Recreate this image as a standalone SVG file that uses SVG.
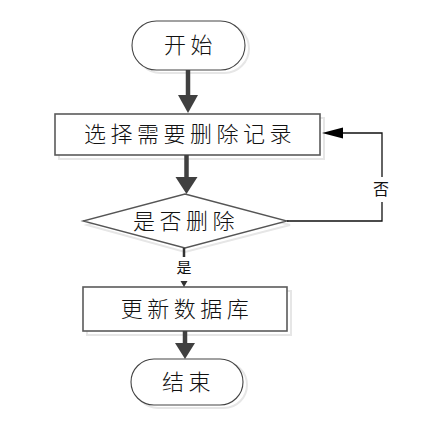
<svg xmlns="http://www.w3.org/2000/svg" width="434" height="425" viewBox="0 0 434 425">
<style>
.sh{fill:none;stroke:#e6e6e6;stroke-width:2}
.box{fill:#fff;stroke:#5a5a5a;stroke-width:1.6}
.term{fill:#fff;stroke:#444;stroke-width:1.1}
.t{font-family:"Noto Sans CJK SC","Noto Sans",sans-serif;font-size:22px;font-weight:300;fill:#111;text-anchor:middle;letter-spacing:4.5px}
.lbl{font-family:"Noto Sans CJK SC","Noto Sans",sans-serif;font-size:15px;fill:#111;text-anchor:middle}
.thick{stroke:#404040;stroke-width:4.5;fill:none}
.thin{stroke:#111;stroke-width:1.3;fill:none}
</style>
<rect width="434" height="425" fill="#fff"/>
<g id="start">
<rect class="sh" x="136" y="24" width="113" height="49" rx="24.5"/>
<rect class="term" x="132" y="21" width="113" height="49" rx="24.5"/>
<text class="t" x="190.5" y="53">开始</text>
</g>
<g id="select">
<rect class="sh" x="59" y="118" width="265" height="41"/>
<rect class="box" x="55" y="114" width="265" height="41"/>
<text class="t" x="190" y="142">选择需要删除记录</text>
</g>
<g id="decide">
<polygon class="sh" points="185,198 290,225 185,252 87,225"/>
<polygon fill="#fff" stroke="#555" stroke-width="1.3" points="185,194 287,221 185,248 83,221"/>
<text class="t" x="186" y="229">是否删除</text>
</g>
<g id="update">
<rect class="sh" x="87" y="291" width="204" height="44"/>
<rect class="box" x="83" y="287" width="204" height="44"/>
<text class="t" x="187" y="317">更新数据库</text>
</g>
<g id="end">
<rect class="sh" x="135" y="362" width="112" height="46" rx="23"/>
<rect class="term" x="131" y="359" width="112" height="46" rx="23"/>
<text class="t" x="188.5" y="390">结束</text>
</g>
<g id="connectors">
<line class="thick" x1="188" y1="70" x2="188" y2="96"/>
<polygon fill="#404040" points="178,95 198,95 188,113"/>
<line class="thick" x1="186.5" y1="155" x2="186.5" y2="178"/>
<polygon fill="#404040" points="175.5,177 197.5,177 186.5,194"/>
<line class="thick" x1="185" y1="331" x2="185" y2="344"/>
<polygon fill="#404040" points="175,343 195,343 185,359"/>
<line stroke="#333" stroke-width="2.5" x1="184" y1="248" x2="184" y2="257"/>
<polygon fill="#333" points="180.5,281 187.5,281 184,287"/>
<text class="lbl" x="184" y="273">是</text>
<polyline class="thin" points="287,221 382,221 382,133 342,133"/>
<polygon fill="#000" points="343,127.5 343,138.5 322,133"/>
<rect x="372" y="177" width="20" height="25" fill="#fff"/>
<text class="lbl" x="381" y="195" style="font-size:16px">否</text>
</g>
</svg>
